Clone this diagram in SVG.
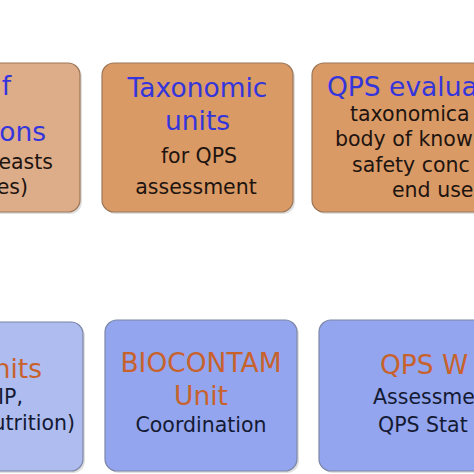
<svg xmlns="http://www.w3.org/2000/svg" width="474" height="474" viewBox="0 0 474 474">
<style>
.t{font-family:"DejaVu Sans","Liberation Sans",sans-serif}
.tb{fill:#D99A66;stroke:#9C7656;stroke-width:1.2}
.tl{fill:#DDAC89;stroke:#9C7656;stroke-width:1.2}
.bb{fill:#93A5EE;stroke:#7C86A6;stroke-width:1.2}
.bl{fill:#AEBCF0;stroke:#7C86A6;stroke-width:1.2}
.sh{fill:#000;opacity:0.12}
.ht{font-size:26.5px;fill:#3535DC}
.ho{font-size:26.5px;fill:#C8622C}
.bt{font-size:20.5px;fill:#1E1410}
.bn{font-size:20.5px;fill:#141A33}
</style>
<rect width="474" height="474" fill="#fff"/>
<g id="node-top-left">
<rect class="sh" x="-18" y="65" width="100" height="149" rx="12"/>
<rect class="tl" x="-20" y="63" width="100" height="149" rx="12"/>
<text class="t ht" x="11" y="95" text-anchor="end">f</text>
<text class="t ht" x="46" y="141" text-anchor="end">ons</text>
<text class="t bt" x="53" y="169" text-anchor="end">easts</text>
<text class="t bt" x="28" y="194" text-anchor="end">es)</text>
</g>
<g id="node-taxonomic-units">
<rect class="sh" x="104" y="65" width="191" height="149" rx="12"/>
<rect class="tb" x="102" y="63" width="191" height="149" rx="12"/>
<text class="t ht" x="197.5" y="97" text-anchor="middle">Taxonomic</text>
<text class="t ht" x="197.5" y="130" text-anchor="middle">units</text>
<text class="t bt" x="199" y="163" text-anchor="middle">for QPS</text>
<text class="t bt" x="196" y="194" text-anchor="middle">assessment</text>
</g>
<g id="node-qps-evaluation">
<rect class="sh" x="314" y="65" width="200" height="149" rx="12"/>
<rect class="tb" x="312" y="63" width="200" height="149" rx="12"/>
<text class="t ht" x="327" y="96">QPS evalua</text>
<text class="t bt" x="350" y="121">taxonomica</text>
<text class="t bt" x="335" y="146">body of know</text>
<text class="t bt" x="352" y="172">safety conc</text>
<text class="t bt" x="392" y="197">end use</text>
</g>
<g id="node-bottom-left">
<rect class="sh" x="-18" y="324" width="103" height="149" rx="12"/>
<rect class="bl" x="-20" y="322" width="103" height="149" rx="12"/>
<text class="t ho" x="42" y="378" text-anchor="end">nits</text>
<text class="t bn" x="23" y="404" text-anchor="end">IP,</text>
<text class="t bn" x="75" y="430" text-anchor="end">utrition)</text>
</g>
<g id="node-biocontam">
<rect class="sh" x="107" y="322" width="192" height="151" rx="12"/>
<rect class="bb" x="105" y="320" width="192" height="151" rx="12"/>
<text class="t ho" x="201" y="372" text-anchor="middle">BIOCONTAM</text>
<text class="t ho" x="201" y="405" text-anchor="middle">Unit</text>
<text class="t bn" x="201" y="432" text-anchor="middle">Coordination</text>
</g>
<g id="node-qps-wg">
<rect class="sh" x="321" y="322" width="200" height="151" rx="12"/>
<rect class="bb" x="319" y="320" width="200" height="151" rx="12"/>
<text class="t ho" x="380" y="374">QPS W</text>
<text class="t bn" x="373" y="404">Assessme</text>
<text class="t bn" x="378" y="432">QPS Stat</text>
</g>
<g id="connectors"></g>
</svg>
